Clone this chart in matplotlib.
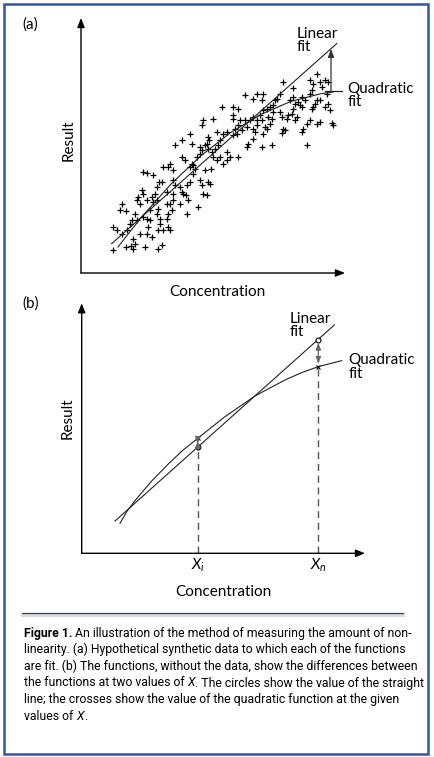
import matplotlib
matplotlib.use('Agg')
import matplotlib.pyplot as plt
from matplotlib import font_manager
from matplotlib.patches import Rectangle
from matplotlib.lines import Line2D

# ---- panel (a): synthetic data (arbitrary units) ----
scatter_x = [97, 95, 122, 117, 135, 107, 122, 137, 135, 155, 149, 162, 157, 152, 167, 162, 177, 182, 187, 172,
             187, 177, 192, 197, 202, 197, 207, 217, 212, 222, 227, 235, 242, 227, 232, 237, 237, 232, 247, 267,
             232, 242, 257, 262, 267, 277, 272, 217, 187, 197, 247, 262, 267, 277, 277, 282, 297, 302, 307, 297,
             315, 317, 322, 317, 327, 337, 327, 332, 342, 357, 362, 367, 377, 352, 382, 372, 387, 389, 347, 357,
             362, 372, 382, 385, 382, 392, 397, 407, 417, 427, 437, 447, 437, 412, 402, 417, 427, 437, 457, 467,
             462, 457, 472, 477, 472, 502, 497, 517, 522, 527, 527, 537, 542, 552, 557, 567, 572, 562, 547, 557,
             567, 577, 582, 587, 597, 602, 612, 602, 607, 617, 622, 632, 637, 642, 642, 647, 652, 657, 662, 667,
             662, 677, 687, 692, 697, 702, 707, 687, 692, 697, 687, 707, 717, 722, 732, 742, 737, 742, 747, 757,
             752, 717, 707, 677, 572, 542, 547, 517, 497, 492, 492, 517, 527, 547, 542, 607, 637, 637, 457, 422,
             457, 472, 397, 367, 362, 327, 332, 302, 282, 302, 312, 337, 357, 377, 407,
             167, 147, 207, 257, 212, 262, 227, 197, 257, 277, 717, 732, 627, 662, 672, 597, 577, 517, 507, 482]
scatter_y = [68, 138, 208, 190, 186, 128, 118, 128, 78, 73, 80, 88, 103, 158, 158, 178, 208, 248, 238, 228,
             168, 118, 78, 118, 138, 163, 188, 213, 228, 238, 258, 273, 273, 218, 193, 163, 148, 128, 128, 128,
             73, 83, 163, 178, 208, 218, 188, 293, 303, 300, 318, 318, 328, 308, 278, 263, 258, 243, 238, 208,
             233, 178, 218, 263, 273, 298, 318, 328, 313, 278, 263, 238, 233, 198, 273, 308, 268, 313, 348, 358,
             368, 383, 408, 398, 373, 363, 348, 338, 348, 328, 338, 348, 363, 383, 373, 398, 418, 423, 413, 418,
             433, 463, 443, 458, 348, 388, 378, 433, 423, 443, 458, 473, 458, 438, 433, 448, 463, 468, 488, 493,
             498, 503, 518, 523, 483, 468, 428, 420, 433, 463, 473, 478, 493, 508, 458, 468, 513, 503, 498, 433,
             423, 448, 458, 493, 498, 508, 518, 538, 548, 568, 578, 598, 573, 558, 578, 573, 538, 508, 488, 443,
             450, 453, 448, 383, 383, 378, 418, 403, 438, 458, 533, 523, 538, 538, 518, 573, 556, 528, 473, 498,
             498, 493, 463, 458, 443, 418, 388, 398, 383, 348, 338, 323, 378, 388, 423,
             218, 148, 158, 208, 108, 138, 178, 218, 243, 238, 518, 498, 518, 528, 518, 538, 483, 468, 458, 428]

lin_a_x = [92, 767]
lin_a_y = [88, 688]
quad_a_x = [111, 180, 270, 360, 450, 540, 630, 720, 756]
quad_a_y = [78, 166, 267, 352, 422, 476, 515, 538, 543]
gap_a_x = 750          # where the difference is shown in (a)
gap_a_y = [543, 673]   # quadratic value, linear value

# ---- panel (b): the two fitted functions only ----
lin_b_x = [100, 758]
lin_b_y = [97, 685]
quad_b_x = [115, 135, 160, 210, 260, 300, 348, 430, 520, 610, 660, 710, 780]
quad_b_y = [90, 125, 158, 217, 268, 306, 345, 410, 472, 520, 542, 560, 578]
mark_x = [348, 710]
mark_names = ['$X_i$', '$X_n$']
mark_lin = [320, 640]
mark_quad = [345, 560]

caption = [
    [('Figure 1.', 'bold', 'normal'), (' An illustration of the method of measuring the amount of non-', 'normal', 'normal')],
    [('linearity. (a) Hypothetical synthetic data to which each of the functions', 'normal', 'normal')],
    [('are fit. (b) The functions, without the data, show the differences between', 'normal', 'normal')],
    [('the functions at two values of ', 'normal', 'normal'), ('X', 'normal', 'italic'),
     ('. The circles show the value of the straight', 'normal', 'normal')],
    [('line; the crosses show the value of the quadratic function at the given', 'normal', 'normal')],
    [('values of ', 'normal', 'normal'), ('X', 'normal', 'italic'), ('.', 'normal', 'normal')],
]

names = {f.name for f in font_manager.fontManager.ttflist}
lab_font = 'Lato' if 'Lato' in names else 'Open Sans'
cap_font = 'Liberation Sans Narrow' if 'Liberation Sans Narrow' in names else 'Roboto'
plt.rcParams['font.family'] = [lab_font, 'DejaVu Sans']
plt.rcParams['mathtext.fontset'] = 'custom'
plt.rcParams['mathtext.it'] = lab_font + ':italic'
plt.rcParams['mathtext.rm'] = lab_font

W, H = 434, 757
fig = plt.figure(figsize=(W / 100, H / 100), dpi=100)

def fx(px):
    return px / W

def fy(py):
    return 1 - py / H

lab_fs = 11
line_col = '#222222'

def draw_axes(ax, xmax, ymax):
    ax.axis('off')
    arrow = dict(arrowstyle='-|>,head_length=0.55,head_width=0.22', color='black', lw=1.0,
                 shrinkA=0, shrinkB=0)
    ax.annotate('', xy=(xmax, 0), xytext=(0, 0), arrowprops=arrow, annotation_clip=False)
    ax.annotate('', xy=(0, ymax), xytext=(0, 0), arrowprops=arrow, annotation_clip=False)

# ---------- panel (a) ----------
ax_a = fig.add_axes([fx(81), fy(273), fx(264), 255 / H])
ax_a.set_xlim(0, 792)
ax_a.set_ylim(0, 765)
draw_axes(ax_a, 792, 765)
ax_a.plot(scatter_x, scatter_y, '+', color='black', ms=3.8, mew=0.9, clip_on=False)
ax_a.plot(lin_a_x, lin_a_y, color=line_col, lw=0.8, clip_on=False)
ax_a.plot(quad_a_x, quad_a_y, color=line_col, lw=0.8, clip_on=False)
ax_a.annotate('', xy=(gap_a_x, gap_a_y[1]), xytext=(gap_a_x, gap_a_y[0]),
              arrowprops=dict(arrowstyle='-|>,head_length=0.5,head_width=0.18', color='#333333',
                              lw=0.9, shrinkA=0, shrinkB=0), annotation_clip=False)
ax_a.plot([732, 782], [546, 546], color=line_col, lw=0.9, clip_on=False)
ax_a.text(647, 738, 'Linear\nfit', fontsize=lab_fs, va='top', ha='left', linespacing=0.95, clip_on=False)
ax_a.text(800, 573, 'Quadratic\nfit', fontsize=lab_fs, va='top', ha='left', linespacing=0.95, clip_on=False)

# ---------- panel (b) ----------
ax_b = fig.add_axes([fx(81.7), fy(553.3), fx(283.3), 250 / H])
ax_b.set_xlim(0, 850)
ax_b.set_ylim(0, 750)
draw_axes(ax_b, 850, 750)
ax_b.plot(lin_b_x, lin_b_y, color=line_col, lw=0.8, clip_on=False)
ax_b.plot(quad_b_x, quad_b_y, color=line_col, lw=0.8, clip_on=False)
dash_top = [mark_lin[0], mark_quad[1]]
for xm, name, yl, yq, top in zip(mark_x, mark_names, mark_lin, mark_quad, dash_top):
    ax_b.plot([xm, xm], [0, top], color='#555555', lw=1.0, ls=(0, (5, 3.5)), clip_on=False)
    ax_b.annotate('', xy=(xm, yl), xytext=(xm, yq),
                  arrowprops=dict(arrowstyle='<|-|>,head_length=0.4,head_width=0.15', color='#666666',
                                  lw=0.9, shrinkA=2, shrinkB=2), annotation_clip=False)
    ax_b.plot(xm, yl, 'o', ms=3.5, mfc='white', mec='black', mew=0.8, clip_on=False)
    ax_b.plot(xm, yq, 'x', ms=3.5, color='black', mew=0.8, clip_on=False)
    ax_b.text(xm, -36, name, fontsize=lab_fs, ha='center', va='center')
ax_b.text(625, 725, 'Linear\nfit', fontsize=lab_fs, va='top', ha='left', linespacing=0.95, clip_on=False)
ax_b.text(800, 600, 'Quadratic\nfit', fontsize=lab_fs, va='top', ha='left', linespacing=0.95, clip_on=False)

# axis titles and panel tags
fig.text(fx(217), fy(292), 'Concentration', fontsize=lab_fs, ha='center', va='center')
fig.text(fx(223.5), fy(591.7), 'Concentration', fontsize=lab_fs, ha='center', va='center')
fig.text(fx(69), fy(140), 'Result', fontsize=lab_fs, rotation=90, ha='center', va='center')
fig.text(fx(68), fy(418), 'Result', fontsize=lab_fs, rotation=90, ha='center', va='center')
fig.text(fx(22), fy(25), '(a)', fontsize=lab_fs, ha='left', va='center')
fig.text(fx(22), fy(303.5), '(b)', fontsize=lab_fs, ha='left', va='center')

# frame and separator
fig.patches.append(Rectangle((fx(3.5), fy(753.5)), fx(424), 750 / H, transform=fig.transFigure,
                             fill=False, ec='#2f57a6', lw=1.8))
fig.lines.append(Line2D([fx(22), fx(403)], [fy(615), fy(615)], transform=fig.transFigure,
                        color='#d8d8d8', lw=2.0))
fig.lines.append(Line2D([fx(22), fx(403)], [fy(613), fy(613)], transform=fig.transFigure,
                        color='#1f3f7f', lw=0.9))

# caption, drawn run by run so bold / italic pieces line up
renderer = fig.canvas.get_renderer()
baselines = [637, 653.5, 670, 686.5, 703, 719.5]

def draw_line(runs, yb, size):
    x = fx(24)
    made = []
    for txt, weight, style in runs:
        t = fig.text(x, fy(yb), txt, fontsize=size, family=[cap_font, 'DejaVu Sans'],
                     weight=weight, style=style, ha='left', va='baseline')
        made.append(t)
        x = t.get_window_extent(renderer).x1 / fig.bbox.width
    return made, x * W - 24

# the first caption line runs to x = 413 px in the reference; size the font to match
trial, width = draw_line(caption[0], baselines[0], 10)
for t in trial:
    t.remove()
cap_fs = 10 * 389 / width
for runs, yb in zip(caption, baselines):
    draw_line(runs, yb, cap_fs)

fig.savefig('out.png', dpi=100)
